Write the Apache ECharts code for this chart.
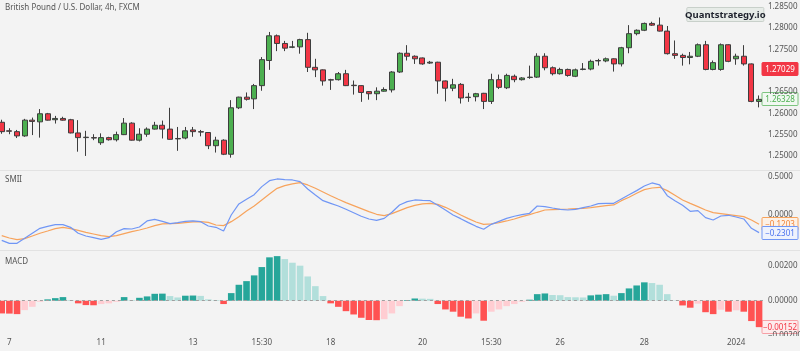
<!DOCTYPE html>
<html>
<head>
<meta charset="utf-8">
<script src="https://cdn.jsdelivr.net/npm/echarts@6/dist/echarts.min.js"></script>
<style>
html, body { margin: 0; padding: 0; background: #f3f3f3; }
#main { width: 800px; height: 351px; }
</style>
</head>
<body>
<div id="main"></div>
<script>
// GBP/USD 4h candles: [open, close, low, high]
const candles = [
    [1.2579,1.2557,1.2552,1.2585],[1.2559,1.2558,1.2551,1.2565],[1.2557,1.2547,1.2542,1.2561],[1.2547,1.2584,1.2545,1.2587],
    [1.2584,1.2581,1.2549,1.2590],[1.2580,1.2599,1.2543,1.2610],[1.2599,1.2584,1.2583,1.2601],[1.2585,1.2588,1.2576,1.2594],
    [1.2588,1.2584,1.2583,1.2592],[1.2585,1.2554,1.2553,1.2587],[1.2554,1.2543,1.2510,1.2584],[1.2543,1.2544,1.2500,1.2559],
    [1.2543,1.2542,1.2537,1.2551],[1.2531,1.2543,1.2526,1.2553],[1.2543,1.2538,1.2536,1.2545],[1.2538,1.2550,1.2534,1.2557],
    [1.2550,1.2577,1.2549,1.2589],[1.2577,1.2537,1.2536,1.2579],[1.2537,1.2551,1.2534,1.2565],[1.2551,1.2563,1.2545,1.2567],
    [1.2563,1.2572,1.2562,1.2580],[1.2572,1.2563,1.2541,1.2583],[1.2563,1.2539,1.2538,1.2613],[1.2541,1.2540,1.2512,1.2568],
    [1.2542,1.2559,1.2539,1.2568],[1.2561,1.2557,1.2545,1.2568],[1.2557,1.2556,1.2546,1.2561],[1.2555,1.2524,1.2516,1.2556],
    [1.2524,1.2537,1.2508,1.2545],[1.2537,1.2504,1.2502,1.2539],[1.2504,1.2613,1.2496,1.2631],[1.2613,1.2638,1.2610,1.2639],
    [1.2638,1.2633,1.2630,1.2649],[1.2634,1.2665,1.2610,1.2669],[1.2665,1.2726,1.2653,1.2732],[1.2724,1.2782,1.2702,1.2791],
    [1.2782,1.2764,1.2746,1.2785],[1.2764,1.2753,1.2746,1.2770],[1.2755,1.2756,1.2753,1.2770],[1.2756,1.2773,1.2740,1.2775],
    [1.2773,1.2708,1.2697,1.2789],[1.2708,1.2702,1.2685,1.2728],[1.2702,1.2676,1.2665,1.2703],[1.2679,1.2678,1.2655,1.2681],
    [1.2679,1.2693,1.2677,1.2697],[1.2693,1.2665,1.2664,1.2702],[1.2666,1.2665,1.2644,1.2677],[1.2665,1.2649,1.2627,1.2666],
    [1.2651,1.2646,1.2632,1.2652],[1.2646,1.2652,1.2631,1.2661],[1.2652,1.2656,1.2651,1.2661],[1.2655,1.2697,1.2649,1.2699],
    [1.2697,1.2741,1.2695,1.2743],[1.2741,1.2734,1.2724,1.2760],[1.2734,1.2728,1.2716,1.2736],[1.2730,1.2716,1.2714,1.2731],
    [1.2718,1.2720,1.2716,1.2723],[1.2720,1.2676,1.2646,1.2721],[1.2676,1.2659,1.2628,1.2677],[1.2659,1.2667,1.2652,1.2681],
    [1.2668,1.2636,1.2623,1.2671],[1.2637,1.2638,1.2627,1.2648],[1.2639,1.2646,1.2628,1.2648],[1.2647,1.2628,1.2610,1.2648],
    [1.2628,1.2679,1.2622,1.2693],[1.2679,1.2661,1.2657,1.2691],[1.2660,1.2689,1.2657,1.2693],[1.2687,1.2679,1.2673,1.2691],
    [1.2679,1.2683,1.2677,1.2685],[1.2684,1.2685,1.2681,1.2712],[1.2685,1.2734,1.2683,1.2741],[1.2734,1.2707,1.2701,1.2741],
    [1.2707,1.2693,1.2689,1.2710],[1.2693,1.2703,1.2691,1.2707],[1.2703,1.2689,1.2686,1.2705],[1.2687,1.2702,1.2685,1.2705],
    [1.2703,1.2704,1.2701,1.2718],[1.2704,1.2722,1.2701,1.2726],[1.2724,1.2723,1.2712,1.2728],[1.2723,1.2728,1.2720,1.2731],
    [1.2728,1.2716,1.2698,1.2729],[1.2716,1.2754,1.2710,1.2756],[1.2754,1.2787,1.2741,1.2807],[1.2787,1.2795,1.2783,1.2797],
    [1.2795,1.2811,1.2793,1.2813],[1.2811,1.2807,1.2805,1.2815],[1.2807,1.2793,1.2792,1.2825],[1.2793,1.2740,1.2738,1.2805],
    [1.2740,1.2736,1.2728,1.2771],[1.2736,1.2731,1.2712,1.2740],[1.2731,1.2734,1.2715,1.2744],[1.2734,1.2761,1.2732,1.2764],
    [1.2761,1.2703,1.2701,1.2770],[1.2703,1.2719,1.2701,1.2724],[1.2703,1.2761,1.2700,1.2764],[1.2761,1.2722,1.2720,1.2762],
    [1.2728,1.2734,1.2714,1.2740],[1.2734,1.2716,1.2712,1.2760],[1.2716,1.2628,1.2626,1.2717],[1.2628,1.26328,1.2614,1.2642]
];

// SMI ergodic indicator (blue) and its signal (orange)
const smiLine = [
    -0.331,-0.370,-0.370,-0.305,-0.239,-0.174,-0.148,-0.126,-0.126,-0.161,
    -0.239,-0.274,-0.296,-0.318,-0.296,-0.218,-0.178,-0.183,-0.157,-0.078,
    -0.057,-0.083,-0.113,-0.100,-0.083,-0.078,-0.087,-0.144,-0.161,-0.209,
    0.000,0.144,0.205,0.265,0.370,0.448,0.470,0.461,0.457,0.435,
    0.339,0.261,0.187,0.152,0.117,0.074,0.030,-0.017,-0.052,-0.070,
    -0.044,0.035,0.131,0.174,0.196,0.191,0.187,0.126,0.065,0.000,
    -0.048,-0.100,-0.148,-0.187,-0.122,-0.083,-0.044,-0.017,0.004,0.022,
    0.117,0.109,0.091,0.074,0.065,0.074,0.096,0.117,0.148,0.152,
    0.152,0.209,0.265,0.318,0.379,0.418,0.392,0.252,0.187,0.126,
    0.048,0.057,-0.035,-0.065,-0.013,-0.004,-0.026,-0.052,-0.174,-0.2301
];
const smiSignal = [
    -0.270,-0.300,-0.322,-0.309,-0.274,-0.239,-0.209,-0.178,-0.161,-0.178,
    -0.200,-0.226,-0.248,-0.270,-0.283,-0.270,-0.244,-0.218,-0.196,-0.170,
    -0.139,-0.117,-0.113,-0.109,-0.100,-0.091,-0.087,-0.096,-0.131,-0.139,
    -0.087,-0.022,0.052,0.117,0.196,0.274,0.348,0.383,0.405,0.422,
    0.392,0.348,0.300,0.252,0.205,0.161,0.122,0.083,0.044,0.009,
    -0.009,0.017,0.057,0.096,0.126,0.144,0.152,0.139,0.100,0.052,
    0.000,-0.048,-0.091,-0.122,-0.117,-0.100,-0.078,-0.052,-0.022,0.004,
    0.035,0.065,0.070,0.074,0.078,0.083,0.087,0.096,0.109,0.122,
    0.131,0.187,0.231,0.283,0.331,0.352,0.361,0.318,0.257,0.196,
    0.152,0.109,0.065,0.030,0.017,0.004,-0.009,-0.022,-0.065,-0.1203
];

// MACD histogram
const macdHist = [
    -0.00073,-0.00074,-0.00077,-0.00054,-0.00035,-0.00006,0.00008,0.00015,0.00021,0.00004,
    -0.00015,-0.00025,-0.00026,-0.00019,-0.00015,-0.00006,0.00021,0.00004,0.00017,0.00025,
    0.00040,0.00041,0.00027,0.00019,0.00029,0.00030,0.00028,0.00008,0.00004,-0.00019,
    0.00044,0.00092,0.00113,0.00146,0.00194,0.00250,0.00257,0.00240,0.00219,0.00202,
    0.00140,0.00084,0.00027,-0.00015,-0.00035,-0.00060,-0.00079,-0.00098,-0.00111,-0.00112,
    -0.00106,-0.00073,-0.00031,0.00004,0.00013,0.00012,0.00011,-0.00019,-0.00050,-0.00063,
    -0.00092,-0.00102,-0.00073,-0.00115,-0.00063,-0.00050,-0.00031,-0.00019,-0.00006,0.00006,
    0.00038,0.00042,0.00033,0.00032,0.00021,0.00020,0.00019,0.00031,0.00035,0.00038,
    0.00029,0.00044,0.00071,0.00088,0.00106,0.00102,0.00092,0.00038,0.00002,-0.00027,
    -0.00040,-0.00017,-0.00066,-0.00077,-0.00052,-0.00063,-0.00055,-0.00063,-0.00117,-0.00152
];

// time axis labels (candle index -> text)
const tickIndex = [1, 13, 25, 34, 43, 55, 64, 73, 84, 96];
const tickText = ['7', '11', '13', '15:30', '18', '20', '15:30', '26', '28', '2024'];

const priceTicks = [1.25, 1.255, 1.26, 1.265, 1.275, 1.28, 1.285];
const smiTicks = [0.5, 0];
const macdTicks = [0.002, 0, -0.002];
const refPrice = 1.27029;

const chart = echarts.init(document.getElementById('main'));
const cats = candles.map((d, i) => String(i));
const font = 'Noto Sans';
const txt = '#555';
const last = arr => arr[arr.length - 1];
const lastPrice = last(candles)[1];

const macdItems = macdHist.map((v, i) => {
    let prev = i > 0 ? macdHist[i - 1] : 0;
    let c;
    if (v >= 0) c = v > prev ? '#26a69a' : '#b2dfdb';
    else c = v < prev ? '#ff5252' : '#ffcdd2';
    return { value: v, itemStyle: { color: c } };
});

function yAxisFor(idx, min, max, ticks, digits) {
    return {
        type: 'value', gridIndex: idx, position: 'right', min: min, max: max, scale: true,
        axisLine: { show: false }, axisTick: { show: false }, splitLine: { show: false },
        axisLabel: {
            customValues: ticks, margin: 5, color: txt, fontSize: 8, fontFamily: font,
            formatter: v => v.toFixed(digits).replace('-', '\u2212')
        }
    };
}

function xAxisFor(idx, showLabels) {
    return {
        type: 'category', gridIndex: idx, data: cats, boundaryGap: true,
        axisLine: { show: false }, axisTick: { show: false }, splitLine: { show: false },
        axisLabel: {
            show: showLabels, margin: 3, color: txt, fontSize: 8, fontFamily: font,
            interval: i => tickIndex.includes(i),
            formatter: v => tickText[tickIndex.indexOf(+v)]
        }
    };
}

const gridBase = { left: -2.1, right: 37.1, outerBoundsMode: 'none', containLabel: false };

chart.setOption({
    animation: false,
    backgroundColor: '#f3f3f3',
    grid: [
        Object.assign({ top: 0, height: 170 }, gridBase),
        Object.assign({ top: 171, height: 79 }, gridBase),
        Object.assign({ top: 251, height: 85 }, gridBase)
    ],
    xAxis: [xAxisFor(0, false), xAxisFor(1, false), xAxisFor(2, true)],
    yAxis: [
        yAxisFor(0, 1.2467, 1.2866, priceTicks, 5),
        yAxisFor(1, -0.457, 0.574, smiTicks, 4),
        yAxisFor(2, -0.00203, 0.002865, macdTicks, 5)
    ],
    series: [
        {
            type: 'candlestick', xAxisIndex: 0, yAxisIndex: 0, data: candles, barWidth: 5.5,
            itemStyle: {
                color: '#4caf50', color0: '#f23645',
                borderColor: '#3d3d3d', borderColor0: '#3d3d3d', borderWidth: 1
            }
        },
        {
            type: 'line', xAxisIndex: 1, yAxisIndex: 1, data: smiSignal, showSymbol: false,
            lineStyle: { color: '#f7a35c', width: 1.2 }
        },
        {
            type: 'line', xAxisIndex: 1, yAxisIndex: 1, data: smiLine, showSymbol: false,
            lineStyle: { color: '#7096f5', width: 1.2 }
        },
        {
            type: 'bar', xAxisIndex: 2, yAxisIndex: 2, data: macdItems, barWidth: '86%',
            markLine: {
                symbol: ['none', 'none'], silent: true,
                lineStyle: { color: '#a0a0a0', type: [3, 3], width: 1 },
                label: { show: false },
                data: [{ yAxis: 0 }]
            }
        }
    ]
});

// price-scale tags, placed on each pane's own y scale
function tag(axis, value, digits, border, fill, color) {
    const y = chart.convertToPixel({ yAxisIndex: axis }, value);
    return {
        type: 'group', x: 762, y: Math.round(y) - 6.5, z: 100,
        children: [
            { type: 'rect', shape: { x: 0, y: 0, width: 36, height: 13, r: 1 },
              style: { fill: fill, stroke: border || fill, lineWidth: 1 } },
            { type: 'text', x: 18, y: 7, style: {
                text: value.toFixed(digits).replace('-', '\u2212'), fill: color,
                fontSize: 8, fontFamily: font, align: 'center', verticalAlign: 'middle' } }
        ]
    };
}

chart.setOption({
    graphic: [
        { type: 'rect', shape: { x: 0, y: 170, width: 800, height: 1 }, style: { fill: '#e2e2e2' }, silent: true },
        { type: 'rect', shape: { x: 0, y: 250, width: 800, height: 1 }, style: { fill: '#e2e2e2' }, silent: true },
        { type: 'rect', shape: { x: 758, y: 336, width: 42, height: 15 }, style: { fill: '#f3f3f3' }, silent: true, z: 100 },
        { type: 'text', left: 5, top: 4, style: { text: 'British Pound / U.S. Dollar, 4h, FXCM', fill: '#555', fontSize: 8, fontFamily: font } },
        { type: 'text', left: 5, top: 176, style: { text: 'SMII', fill: '#555', fontSize: 8, fontFamily: font } },
        { type: 'text', left: 5, top: 258, style: { text: 'MACD', fill: '#555', fontSize: 8, fontFamily: font } },
        {
            type: 'group', left: 685, top: 7,
            children: [
                { type: 'rect', shape: { x: 0, y: 0, width: 77, height: 14, r: 1 }, style: { fill: '#e7ece8', stroke: '#c8d0ca', lineWidth: 1 } },
                { type: 'text', x: 38.5, y: 7.5, style: { text: 'Quantstrategy.io', fill: '#1e222d', fontSize: 9.5, fontWeight: 'bold', fontFamily: font, align: 'center', verticalAlign: 'middle' } }
            ]
        },
        tag(0, refPrice, 5, null, '#f23645', '#ffffff'),
        tag(0, lastPrice, 5, '#7cc47f', '#f1f8f1', '#4caf50'),
        tag(1, last(smiSignal), 4, '#f7a35c', '#fdf1e6', '#f0843a'),
        tag(1, last(smiLine), 4, '#7096f5', '#eef2fd', '#4a72ee'),
        tag(2, last(macdHist), 5, '#f7a0a6', '#fdeced', '#f23645')
    ]
});
</script>
</body>
</html>
